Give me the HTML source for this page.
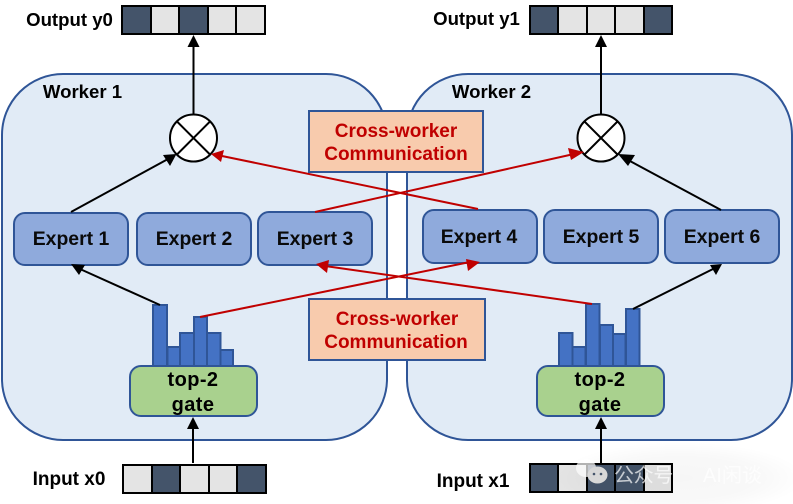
<!DOCTYPE html>
<html><head><meta charset="utf-8"><style>
html,body{margin:0;padding:0;background:#fff;width:793px;height:504px;overflow:hidden}
svg{display:block}
text{font-family:"Liberation Sans",sans-serif;font-weight:bold;text-anchor:middle}
.l{font-size:18.6px;fill:#000}
.e{font-size:19.4px;fill:#0a0a0a}
.g{font-size:20px;fill:#000;letter-spacing:.4px}
.c{font-size:19px;fill:#c00000}
.w{fill:#e1ebf6;stroke:#2f5597;stroke-width:2}
.x{fill:#8faadc;stroke:#2f5597;stroke-width:2}
.gt{fill:#a9d18e;stroke:#2f5597;stroke-width:2}
.b{fill:#4472c4;stroke:#2f5597;stroke-width:2}
.cb{fill:#f8cbad;stroke:#2f5597;stroke-width:2}
.d{fill:#44546a;stroke:#000;stroke-width:2}
.li{fill:#e4e4e4;stroke:#000;stroke-width:2}
.k{stroke:#000;stroke-width:2;fill:none}
.r{stroke:#c00000;stroke-width:2;fill:none}
.wm{font-family:"Liberation Sans","Noto Sans CJK SC",sans-serif;font-size:20px;font-weight:normal;fill:#fff;text-anchor:start}
</style></head><body>
<svg width="793" height="504" viewBox="0 0 793 504" xmlns="http://www.w3.org/2000/svg">
<defs>
<radialGradient id="sh" cx="50%" cy="50%" r="50%">
<stop offset="0" stop-color="#000" stop-opacity=".035"/>
<stop offset=".65" stop-color="#000" stop-opacity=".025"/>
<stop offset="1" stop-color="#000" stop-opacity="0"/>
</radialGradient>
</defs>
<rect class="w" x="2" y="74" width="385" height="366" rx="61"/>
<rect class="w" x="407" y="74" width="385" height="366" rx="61"/>

<!-- outputs -->
<text class="l" x="69.500" y="26">Output y0</text>
<text class="l" x="476.500" y="25">Output y1</text>
<g>
<rect class="d" x="122" y="6" width="29" height="28"/><rect class="li" x="151" y="6" width="28" height="28"/><rect class="d" x="179" y="6" width="29" height="28"/><rect class="li" x="208" y="6" width="28" height="28"/><rect class="li" x="236" y="6" width="29" height="28"/>
<rect class="d" x="530" y="6" width="28" height="28"/><rect class="li" x="558" y="6" width="29" height="28"/><rect class="li" x="587" y="6" width="28" height="28"/><rect class="li" x="615" y="6" width="29" height="28"/><rect class="d" x="644" y="6" width="28" height="28"/>
</g>

<text class="l" x="82.500" y="98">Worker 1</text>
<text class="l" x="491.500" y="98">Worker 2</text>

<!-- experts -->
<rect class="x" x="14" y="213" width="114" height="52" rx="11"/>
<rect class="x" x="137" y="213" width="114" height="52" rx="11"/>
<rect class="x" x="258" y="212" width="114" height="53" rx="11"/>
<rect class="x" x="423" y="210" width="114" height="53" rx="11"/>
<rect class="x" x="544" y="210" width="114" height="53" rx="11"/>
<rect class="x" x="665" y="210" width="114" height="53" rx="11"/>
<text class="e" x="71" y="245">Expert 1</text>
<text class="e" x="194" y="245">Expert 2</text>
<text class="e" x="315" y="245">Expert 3</text>
<text class="e" x="479" y="243">Expert 4</text>
<text class="e" x="601" y="243">Expert 5</text>
<text class="e" x="722" y="243">Expert 6</text>

<!-- bars -->
<rect class="b" x="153" y="305" width="14" height="62"/>
<rect class="b" x="167.500" y="347" width="12.500" height="20"/>
<rect class="b" x="180" y="333" width="14" height="34"/>
<rect class="b" x="194" y="317" width="13" height="50"/>
<rect class="b" x="207" y="333" width="13.500" height="34"/>
<rect class="b" x="220.500" y="350" width="12.500" height="17"/>
<rect class="b" x="559" y="333" width="13.500" height="34"/>
<rect class="b" x="572.500" y="347" width="13" height="20"/>
<rect class="b" x="586" y="304" width="13.500" height="63"/>
<rect class="b" x="600" y="325" width="13" height="42"/>
<rect class="b" x="613" y="334" width="12.500" height="33"/>
<rect class="b" x="626" y="309" width="13.500" height="58"/>

<!-- gates -->
<rect class="gt" x="130" y="366" width="127" height="50" rx="11"/>
<rect class="gt" x="537" y="366" width="127" height="50" rx="11"/>
<text class="g" x="193" y="386">top-2</text>
<text class="g" x="193" y="411">gate</text>
<text class="g" x="600" y="386">top-2</text>
<text class="g" x="600" y="411">gate</text>

<!-- circles -->
<g>
<circle cx="193.500" cy="138" r="23.500" fill="#fff" stroke="#000" stroke-width="2"/>
<path class="k" d="M177 121.500L210 154.500M210 121.500L177 154.500"/>
<circle cx="601" cy="138" r="23.500" fill="#fff" stroke="#000" stroke-width="2"/>
<path class="k" d="M584.500 121.500L617.500 154.500M617.500 121.500L584.500 154.500"/>
</g>

<!-- red connectors -->
<path class="r" d="M315 212L574 154"/>
<path class="r" d="M478 209L222 156"/>
<path class="r" d="M200 317L470 262"/>
<path class="r" d="M592 304L325 266"/>
<polygon fill="#c00000" points="584,152 571,160 568,148"/>
<polygon fill="#c00000" points="211,154 224,150 221,162"/>
<polygon fill="#c00000" points="480,262 468,271 466,259"/>
<polygon fill="#c00000" points="316,264 329,260 327,273"/>

<!-- cross boxes -->
<rect class="cb" x="309" y="111" width="174" height="61"/>
<rect class="cb" x="309" y="299" width="176" height="61"/>
<text class="c" x="396" y="137">Cross-worker</text>
<text class="c" x="396" y="160">Communication</text>
<text class="c" x="397" y="325">Cross-worker</text>
<text class="c" x="396" y="348">Communication</text>

<!-- black connectors -->
<path class="k" d="M193.500 115V45"/><polygon points="193.500,35 187.500,47 199.500,47"/>
<path class="k" d="M601 115V45"/><polygon points="601,35 595,47 607,47"/>
<path class="k" d="M71 212L168 159"/><polygon points="176.500,154 170,166 163,155"/>
<path class="k" d="M721 210L628 160"/><polygon points="618,154 635,155 628,166"/>
<path class="k" d="M160 305L80 269"/><polygon points="71,264 85,265 79,275"/>
<path class="k" d="M633 309L713 269"/><polygon points="722,264 716,275 710,265"/>
<path class="k" d="M193 463V426"/><polygon points="193,417 187,429 199,429"/>
<path class="k" d="M601 464V426"/><polygon points="601,417 595,429 607,429"/>

<!-- inputs -->
<text class="l" x="69" y="485" style="font-size:19px">Input x0</text>
<text class="l" x="473" y="487" style="font-size:19px">Input x1</text>
<rect class="li" x="123" y="465" width="29" height="28"/><rect class="d" x="152" y="465" width="28" height="28"/><rect class="li" x="180" y="465" width="29" height="28"/><rect class="li" x="209" y="465" width="28" height="28"/><rect class="d" x="237" y="465" width="29" height="28"/>
<rect class="d" x="530" y="464" width="28" height="28"/><rect class="li" x="558" y="464" width="29" height="28"/><rect class="d" x="587" y="464" width="28" height="28"/><rect class="d" x="615" y="464" width="29" height="28"/><rect class="li" x="644" y="464" width="28" height="28"/>

<!-- watermark -->
<ellipse cx="680" cy="478" rx="125" ry="36" fill="url(#sh)"/>
<ellipse cx="586" cy="468" rx="10" ry="9" fill="#fff" fill-opacity=".7"/>
<ellipse cx="597.500" cy="475" rx="10" ry="8.500" fill="#d8d8d8"/>
<circle cx="594" cy="474" r="1.300" fill="#44546a"/>
<circle cx="601" cy="474" r="1.300" fill="#44546a"/>
<text class="wm" x="614" y="482" fill-opacity=".7" style="letter-spacing:-.3px">公众号</text>
<text class="wm" x="703" y="482" fill-opacity=".7">AI闲谈</text>
</svg>
</body></html>
